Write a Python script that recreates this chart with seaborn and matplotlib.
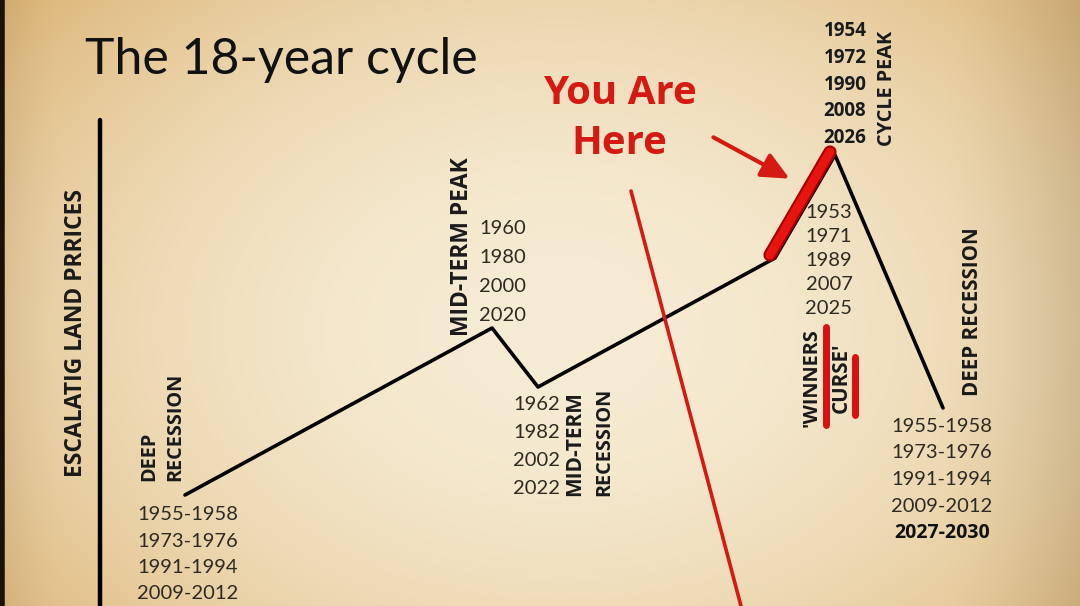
import numpy as np
import pandas as pd
import matplotlib
matplotlib.use("Agg")
import matplotlib.pyplot as plt
import seaborn as sns

# ---------------- data ----------------
phases = ["Deep recession", "Mid-term peak", "Mid-term recession",
          "Winner's curse", "Cycle peak", "Deep recession (next)"]
phase_x = [185, 492, 538, 775, 835, 943]          # position along the cycle
phase_price = [495, 328, 387, 258, 155, 408]      # price level (screen scale, inverted)

highlight_x = [770, 830]                           # "you are here" segment
highlight_price = [255, 152]

start_dates = ["1955-1958", "1973-1976", "1991-1994", "2009-2012"]
midpeak_dates = ["1960", "1980", "2000", "2020"]
midrec_dates = ["1962", "1982", "2002", "2022"]
peak_dates = ["1954", "1972", "1990", "2008", "2026"]
curse_dates = ["1953", "1971", "1989", "2007", "2025"]
end_dates = ["1955-1958", "1973-1976", "1991-1994", "2009-2012", "2027-2030"]

title = "The 18-year cycle"
ylabel = "ESCALATIG LAND PRRICES"

# ---------------- figure ----------------
sns.set_theme(style="white")
plt.rcParams['font.family'] = ['Lato', 'DejaVu Sans']

W, H = 1080, 606
fig = plt.figure(figsize=(W / 100, H / 100), dpi=100)
ax = fig.add_axes([0, 0, 1, 1])

# parchment background
yy, xx = np.mgrid[0:H, 0:W]
cx, cy = 560, 330
d = np.sqrt(((xx - cx) / 600.0) ** 2 + ((yy - cy) / 430.0) ** 2)
d = np.clip(d, 0, 1.25) / 1.25
light = np.array([246, 236, 212]) / 255.0
dark = np.array([218, 176, 110]) / 255.0
t = d ** 2.0
bg = light[None, None, :] * (1 - t[..., None]) + dark[None, None, :] * t[..., None]
re = np.clip((xx - 940) / 140.0, 0, 1) ** 1.5
bg = bg * (1 - 0.10 * re[..., None])
le = np.clip((60 - xx) / 60.0, 0, 1) ** 1.5
bg = bg * (1 - 0.06 * le[..., None])
ax.imshow(bg, extent=[0, W, H, 0], aspect="auto", zorder=0)
ax.plot([2, 2], [0, H], color="#1a1208", lw=4, zorder=1)

# main cycle line
df = pd.DataFrame({"x": phase_x, "price": phase_price, "phase": phases})
sns.lineplot(data=df, x="x", y="price", sort=False, color="black",
             linewidth=2.6, ax=ax, zorder=3)

# red highlight
hl = pd.DataFrame({"x": highlight_x, "price": highlight_price})
sns.lineplot(data=hl, x="x", y="price", sort=False, color="#a80000",
             linewidth=9.5, ax=ax, zorder=4)
sns.lineplot(data=hl, x="x", y="price", sort=False, color="#e8140f",
             linewidth=6.5, ax=ax, zorder=5)
ax.lines[-1].set_solid_capstyle("round")
ax.lines[-2].set_solid_capstyle("round")

ax.set_xlim(0, W)
ax.set_ylim(H, 0)
ax.axis("off")

# vertical axis line
ax.plot([100, 100], [120, H], color="black", lw=3.2, zorder=3)

bold_fam = ["Open Sans", "DejaVu Sans"]
reg_fam = ["Lato", "DejaVu Sans"]
txt = "#2e2a22"
lab = "#1a1a1a"
LS = 14.3  # rotated label size
DS = 14.5  # date size

# title and y label
ax.text(85, 74, title, fontsize=36, color="#111111", ha="left", va="baseline",
        family=reg_fam)
ax.text(76, 333, ylabel, rotation=90, fontsize=16.5, fontweight="bold",
        color="#1a1a1a", ha="center", va="center", family=bold_fam)

# start labels
ax.text(149, 481, "DEEP", rotation=90, fontsize=LS, fontweight="bold",
        color=lab, ha="center", va="bottom", family=bold_fam)
ax.text(175, 481, "RECESSION", rotation=90, fontsize=LS, fontweight="bold",
        color=lab, ha="center", va="bottom", family=bold_fam)
for i, s in enumerate(start_dates):
    ax.text(137, 515 + i * 26.3, s, fontsize=DS, color=txt, ha="left", va="center",
            family=reg_fam)

# mid-term peak
ax.text(462, 336, "MID-TERM PEAK", rotation=90, fontsize=16.5, fontweight="bold",
        color=lab, ha="center", va="bottom", family=bold_fam)
for i, s in enumerate(midpeak_dates):
    ax.text(479, 229 + i * 28.7, s, fontsize=DS, color=txt, ha="left", va="center",
            family=reg_fam)

# mid-term recession
for i, s in enumerate(midrec_dates):
    ax.text(560, 405 + i * 28, s, fontsize=DS, color=txt, ha="right", va="center",
            family=reg_fam)
ax.text(575, 496, "MID-TERM", rotation=90, fontsize=LS + 0.7, fontweight="bold",
        color=lab, ha="center", va="bottom", family=bold_fam)
ax.text(604, 496, "RECESSION", rotation=90, fontsize=LS, fontweight="bold",
        color=lab, ha="center", va="bottom", family=bold_fam)

# cycle peak
for i, s in enumerate(peak_dates):
    ax.text(845, 31 + i * 26.8, s, fontsize=13.5, fontweight="bold", color=lab,
            ha="center", va="center", family=bold_fam)
ax.text(887, 146, "CYCLE PEAK", rotation=90, fontsize=LS, fontweight="bold",
        color=lab, ha="center", va="bottom", family=bold_fam)

# winner's curse
for i, s in enumerate(curse_dates):
    ax.text(829, 212 + i * 24, s, fontsize=DS, color=txt, ha="center", va="center",
            family=reg_fam)
ax.text(812, 427, "'WINNERS", rotation=90, fontsize=LS, fontweight="bold",
        color=lab, ha="center", va="bottom", family=bold_fam)
ax.text(841, 413, "CURSE'", rotation=90, fontsize=LS + 0.5, fontweight="bold",
        color=lab, ha="center", va="bottom", family=bold_fam)
ax.plot([826, 826], [327, 425], color="#d81010", lw=5, solid_capstyle="round", zorder=2)
ax.plot([855, 855], [357, 415], color="#d81010", lw=5, solid_capstyle="round", zorder=2)

# deep recession (end)
ax.text(973, 396, "DEEP RECESSION", rotation=90, fontsize=LS + 0.5, fontweight="bold",
        color=lab, ha="center", va="bottom", family=bold_fam)
for i, s in enumerate(end_dates):
    last = i == len(end_dates) - 1
    ax.text(942, 426 + i * 26.8, s, fontsize=14 if last else DS,
            fontweight="bold" if last else "normal",
            color="#111111" if last else txt, ha="center", va="center",
            family=bold_fam if last else reg_fam)

# "You Are Here"
ax.text(620, 94, "You Are", fontsize=29, fontweight="bold", color="#d41a12",
        ha="center", va="center", family=bold_fam)
ax.text(619, 144, "Here", fontsize=29, fontweight="bold", color="#d41a12",
        ha="center", va="center", family=bold_fam)
ax.annotate("", xy=(792, 180), xytext=(711, 136),
            arrowprops=dict(arrowstyle="-|>,head_length=1.4,head_width=0.65",
                            color="#d41a12", lw=3), zorder=4)
ax.plot([631, 741], [191, H], color="#d41a12", lw=2.6, zorder=4)

fig.savefig("out.png", dpi=100)
